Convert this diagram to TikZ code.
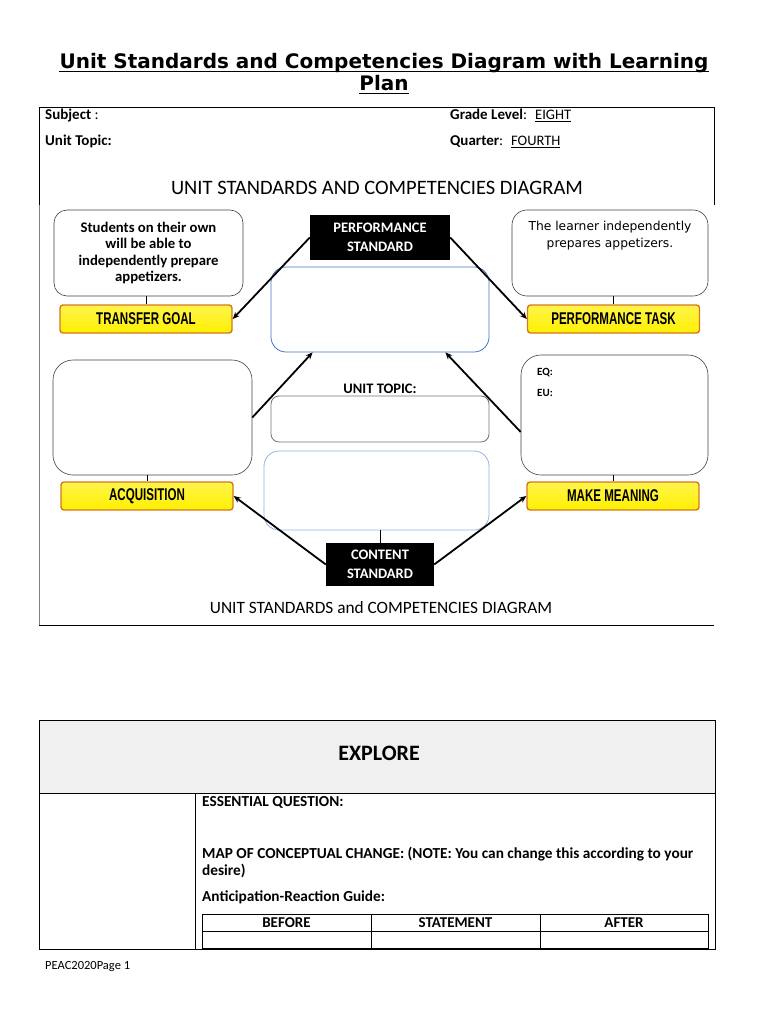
\documentclass[tikz,border=0pt]{standalone}
\usepackage{fontspec}
\setmainfont{Carlito}
\newfontfamily\titlefont{DejaVu Sans}
\newfontfamily\roundfont{DejaVu Sans}
\newfontfamily\narrowfont[FakeStretch=0.68]{Liberation Sans}
\usetikzlibrary{arrows.meta, positioning, calc}
\definecolor{goalyellow}{RGB}{255,240,0}
\definecolor{goaledge}{RGB}{214,118,30}
\definecolor{topicblue}{RGB}{68,114,196}
\definecolor{lightblue}{RGB}{150,176,224}
\definecolor{headgray}{RGB}{240,240,240}
\newcommand{\pxfont}[2]{\fontsize{#1pt}{#2pt}\selectfont}

\begin{document}
\begin{tikzpicture}[x=1pt, y=-1pt,
  wbox/.style={draw=black!75, line width=0.6pt, rounded corners=#1, inner sep=0pt, align=center},
  wbox/.default=14pt,
  goal/.style={draw=goaledge, line width=1.4pt, top color=goalyellow!70!white, bottom color=goalyellow, rounded corners=3pt, minimum width=172pt, minimum height=28pt, inner sep=0pt, font=\narrowfont\bfseries\pxfont{17}{19}},
  stdbox/.style={fill=black, text=white, font=\bfseries\pxfont{14.5}{19.5}, align=center, inner sep=0pt},
  link/.style={line width=1.8pt, -{Stealth[length=7pt, width=6pt]}},
  tick/.style={line width=0.8pt},
  plain/.style={inner sep=0pt, anchor=base west, font=\pxfont{15}{18}},
  headline/.style={inner sep=0pt, anchor=base, font=\titlefont\bfseries\pxfont{20}{22}}
]
  \useasboundingbox (0,0) rectangle (768,1024);

  % title
  \node[headline] (title) at (384,69) {Unit Standards and Competencies Diagram with Learning};
  \node[headline] (title2) at (384,91) {Plan};
  \draw[line width=1pt] ([yshift=-2.5pt]title.base west) -- ([yshift=-2.5pt]title.base east);
  \draw[line width=1pt] ([yshift=-2.5pt]title2.base west) -- ([yshift=-2.5pt]title2.base east);

  % frame of the upper section
  \draw[line width=0.8pt] (39,205) -- (39,107) -- (714,107) -- (714,205);
  \draw[black!50, line width=0.8pt] (39,205) -- (39,625);
  \draw[line width=0.8pt] (39,625) -- (714,625);

  \node[plain] (subj) at (45,120) {\textbf{Subject} :};
  \node[plain] (utopic) at (45,146) {\textbf{Unit Topic:}};
  \node[plain] (grade) at (450,120) {\textbf{Grade Level}:\hspace{8pt}\pxfont{14.5}{17}\underline{EIGHT}};
  \node[plain] (quarter) at (450,146) {\textbf{Quarter}:\hspace{8pt}\pxfont{14.5}{17}\underline{FOURTH}};
  \node[plain, anchor=base, font=\pxfont{20.5}{23}] (diaghead) at (377,195) {UNIT STANDARDS AND COMPETENCIES DIAGRAM};

  % diagram
  \node[wbox=13pt, minimum width=189pt, minimum height=86pt, font=\bfseries\pxfont{14.7}{16.4}] (tl) at (148.5,253) {Students on their own\\will be able to\\independently prepare\\appetizers.};
  \node[goal] (tg) at (146,319) {TRANSFER GOAL};
  \node[stdbox, minimum width=140pt, minimum height=45pt] (ps) at (380,237.5) {PERFORMANCE\\STANDARD};
  \node[wbox=15pt, minimum width=196pt, minimum height=86pt] (tr) at (610,253) {};
  \node[font=\roundfont\pxfont{12.3}{17}, align=center, anchor=north, inner sep=0pt] (trtext) at (610,221) {The learner independently\\prepares appetizers.};
  \node[goal] (pt) at (613.5,319) {PERFORMANCE TASK};
  \node[draw=topicblue, line width=0.8pt, rounded corners=15pt, minimum width=218pt, minimum height=85pt, inner sep=0pt] (tb) at (380,309.5) {};

  \node[wbox=20pt, minimum width=199pt, minimum height=115pt] (lm) at (152.5,417.5) {};
  \node[goal] (aq) at (147,496) {ACQUISITION};
  \node[font=\bfseries\pxfont{14.5}{16}, inner sep=0pt, anchor=base] (uthead) at (380,393) {UNIT TOPIC:};
  \node[draw=black!55, line width=0.8pt, rounded corners=8pt, minimum width=218pt, minimum height=46pt, inner sep=0pt] (ut) at (380,419) {};
  \node[draw=lightblue, line width=0.8pt, rounded corners=15pt, minimum width=225pt, minimum height=79pt, inner sep=0pt] (bb) at (376.5,490.5) {};
  \node[wbox=20pt, minimum width=187pt, minimum height=120pt] (rm) at (614.5,415) {};
  \node[plain, font=\bfseries\pxfont{11}{13}] (eq) at (537,375) {EQ:};
  \node[plain, font=\bfseries\pxfont{11}{13}] (eu) at (537,396) {EU:};
  \node[goal] (mm) at (613,496) {MAKE MEANING};
  \node[stdbox, minimum width=108pt, minimum height=43pt] (cs) at (380,564.5) {CONTENT\\STANDARD};
  \node[plain, anchor=base, font=\pxfont{17.3}{20}] (diagfoot) at (381,613) {UNIT STANDARDS and COMPETENCIES DIAGRAM};

  % connectors
  \draw[tick] (tg.north |- tl.south) -- (tg.north);
  \draw[tick] (pt.north |- tr.south) -- (pt.north);
  \draw[tick] (aq.north |- lm.south) -- (aq.north);
  \draw[tick] (mm.north |- rm.south) -- (mm.north);
  \draw[tick] (cs.north |- bb.south) -- (cs.north);
  \draw[link] (ps.west) -- (tg.east);
  \draw[link] (ps.east) -- (pt.west);
  \draw[link] (lm.east) -- ([xshift=42pt]tb.south west);
  \draw[link] ([yshift=-17pt]rm.west) -- ([xshift=-44pt]tb.south east);
  \draw[link] (cs.west) -- (aq.east);
  \draw[link] (cs.east) -- (mm.west);

  % explore table
  \fill[headgray] (39,720) rectangle (715,793);
  \draw[line width=0.8pt] (39,720) rectangle (715,949);
  \draw[line width=0.8pt] (39,793) -- (715,793);
  \draw[line width=0.8pt] (195,793) -- (195,949);
  \node[font=\bfseries\pxfont{22}{24}] (explore) at (379,753) {EXPLORE};
  \node[plain, font=\bfseries\pxfont{15.3}{18}] (essq) at (202,806) {ESSENTIAL QUESTION:};
  \node[plain, font=\bfseries\pxfont{15.3}{18}] (mapcc) at (202,858) {MAP OF CONCEPTUAL CHANGE: (NOTE: You can change this according to your};
  \node[plain, font=\bfseries\pxfont{15.3}{18}] (desire) at (202,875) {desire)};
  \node[plain, font=\bfseries\pxfont{15.3}{18}] (arg) at (202,901) {Anticipation-Reaction Guide:};
  \draw[line width=0.8pt] (202,914) rectangle (708,948);
  \draw[line width=0.8pt] (202,931) -- (708,931);
  \draw[line width=0.8pt] (371,914) -- (371,948);
  \draw[line width=0.8pt] (540,914) -- (540,948);
  \node[font=\bfseries\pxfont{15}{16}] (before) at (286.5,922.5) {BEFORE};
  \node[font=\bfseries\pxfont{15}{16}] (statement) at (455.5,922.5) {STATEMENT};
  \node[font=\bfseries\pxfont{15}{16}] (after) at (624,922.5) {AFTER};

  \node[plain, font=\pxfont{12.5}{14}] (footer) at (45,969) {PEAC2020Page 1};
\end{tikzpicture}
\end{document}
